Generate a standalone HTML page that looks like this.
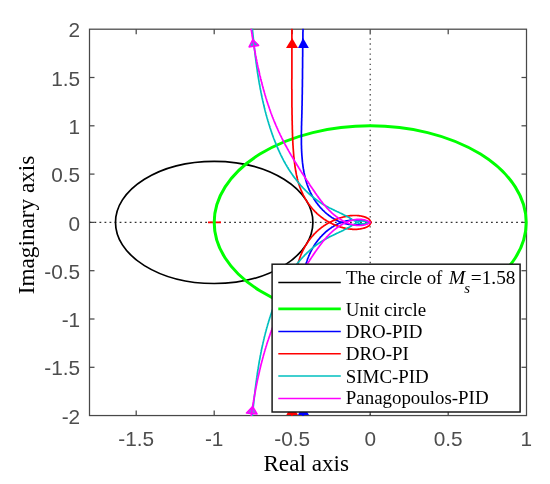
<!DOCTYPE html>
<html><head><meta charset="utf-8"><title>Nyquist plot</title>
<style>html,body{margin:0;padding:0;background:#fff}svg{display:block}</style></head>
<body>
<svg width="550" height="484" viewBox="0 0 550 484">
<rect width="550" height="484" fill="#fff"/>
<defs><clipPath id="ax"><rect x="89.5" y="28.7" width="438.8" height="387.35"/></clipPath></defs>
<g stroke="#484848" stroke-width="1.25" fill="none">
<line x1="136.2" y1="415.55" x2="136.2" y2="410.55"/>
<line x1="136.2" y1="29.2" x2="136.2" y2="34.2"/>
<line x1="214.2" y1="415.55" x2="214.2" y2="410.55"/>
<line x1="214.2" y1="29.2" x2="214.2" y2="34.2"/>
<line x1="292.2" y1="415.55" x2="292.2" y2="410.55"/>
<line x1="292.2" y1="29.2" x2="292.2" y2="34.2"/>
<line x1="370.2" y1="415.55" x2="370.2" y2="410.55"/>
<line x1="370.2" y1="29.2" x2="370.2" y2="34.2"/>
<line x1="448.2" y1="415.55" x2="448.2" y2="410.55"/>
<line x1="448.2" y1="29.2" x2="448.2" y2="34.2"/>
<line x1="89.5" y1="77.5" x2="94.5" y2="77.5"/>
<line x1="526.5" y1="77.5" x2="521.5" y2="77.5"/>
<line x1="89.5" y1="125.8" x2="94.5" y2="125.8"/>
<line x1="526.5" y1="125.8" x2="521.5" y2="125.8"/>
<line x1="89.5" y1="174.1" x2="94.5" y2="174.1"/>
<line x1="526.5" y1="174.1" x2="521.5" y2="174.1"/>
<line x1="89.5" y1="222.4" x2="94.5" y2="222.4"/>
<line x1="526.5" y1="222.4" x2="521.5" y2="222.4"/>
<line x1="89.5" y1="270.7" x2="94.5" y2="270.7"/>
<line x1="526.5" y1="270.7" x2="521.5" y2="270.7"/>
<line x1="89.5" y1="319.0" x2="94.5" y2="319.0"/>
<line x1="526.5" y1="319.0" x2="521.5" y2="319.0"/>
<line x1="89.5" y1="367.3" x2="94.5" y2="367.3"/>
<line x1="526.5" y1="367.3" x2="521.5" y2="367.3"/>
<rect x="89.5" y="29.2" width="437.0" height="386.35"/>
</g>
<g clip-path="url(#ax)" fill="none" stroke-linejoin="round">
<line x1="89.4" y1="222.4" x2="214.0" y2="222.4" stroke="#333" stroke-width="1.15" stroke-dasharray="1.8 3.235"/>
<line x1="214.05" y1="222.4" x2="526.5" y2="222.4" stroke="#333" stroke-width="1.15" stroke-dasharray="1.8 3.235"/>
<line x1="370.2" y1="415.55" x2="370.2" y2="34.2" stroke="#333" stroke-width="1.15" stroke-dasharray="1.4 3.68"/>
<line x1="208" y1="222.4" x2="221" y2="222.4" stroke="#f00" stroke-width="1.6"/>
<line x1="214.2" y1="216.4" x2="214.2" y2="228.4" stroke="#f00" stroke-width="1.6"/>
<ellipse cx="214.2" cy="222.4" rx="98.7" ry="61.1" stroke="#000" stroke-width="1.7"/>
<ellipse cx="370.2" cy="222.4" rx="156.0" ry="96.6" stroke="#00ff00" stroke-width="3.0"/>
<path d="M303.0,28.2 L303.0,29.2 L303.0,29.8 L303.0,30.4 L303.0,31.0 L303.0,31.6 L302.9,32.2 L302.9,32.8 L302.9,33.4 L302.9,34.0 L302.9,34.6 L302.9,35.2 L302.9,35.8 L302.9,36.4 L302.9,37.0 L302.9,37.6 L302.9,38.2 L302.8,38.8 L302.8,39.4 L302.8,40.0 L302.8,40.6 L302.8,41.2 L302.8,41.8 L302.8,42.4 L302.8,43.0 L302.8,43.5 L302.8,44.1 L302.8,44.7 L302.8,45.3 L302.8,45.9 L302.8,46.5 L302.7,47.1 L302.7,47.7 L302.7,48.3 L302.7,48.9 L302.7,49.5 L302.7,50.1 L302.7,50.7 L302.7,51.3 L302.7,51.9 L302.7,52.5 L302.7,53.1 L302.7,53.7 L302.7,54.3 L302.7,54.9 L302.7,55.5 L302.7,56.1 L302.7,56.7 L302.6,57.3 L302.6,57.9 L302.6,58.5 L302.6,59.1 L302.6,59.7 L302.6,60.3 L302.6,60.9 L302.6,61.5 L302.6,62.1 L302.6,62.7 L302.6,63.2 L302.6,63.8 L302.6,64.4 L302.6,65.0 L302.6,65.6 L302.6,66.2 L302.6,66.8 L302.6,67.4 L302.6,68.0 L302.5,68.6 L302.5,69.2 L302.5,69.8 L302.5,70.4 L302.5,71.0 L302.5,71.6 L302.5,72.2 L302.5,72.8 L302.5,73.4 L302.5,74.0 L302.5,74.6 L302.5,75.2 L302.5,75.8 L302.5,76.4 L302.5,77.0 L302.5,77.6 L302.5,78.2 L302.5,78.8 L302.4,79.4 L302.4,79.9 L302.4,80.5 L302.4,81.1 L302.4,81.7 L302.4,82.3 L302.4,82.9 L302.4,83.5 L302.4,84.1 L302.4,84.7 L302.4,85.3 L302.4,85.9 L302.4,86.5 L302.4,87.1 L302.3,87.7 L302.3,88.3 L302.3,88.9 L302.3,89.5 L302.3,90.1 L302.3,90.7 L302.3,91.3 L302.3,91.9 L302.3,92.5 L302.3,93.1 L302.3,93.7 L302.3,94.3 L302.2,94.9 L302.2,95.5 L302.2,96.1 L302.2,96.7 L302.2,97.3 L302.2,97.8 L302.2,98.4 L302.2,99.0 L302.2,99.6 L302.2,100.2 L302.1,100.8 L302.1,101.4 L302.1,102.0 L302.1,102.6 L302.1,103.2 L302.1,103.8 L302.1,104.4 L302.1,105.0 L302.1,105.6 L302.0,106.2 L302.0,106.8 L302.0,107.4 L302.0,108.0 L302.0,108.6 L302.0,109.2 L302.0,109.8 L301.9,110.4 L301.9,111.0 L301.9,111.6 L301.9,112.2 L301.9,112.8 L301.9,113.4 L301.9,114.0 L301.8,114.6 L301.8,115.2 L301.8,115.8 L301.8,116.4 L301.8,117.0 L301.8,117.6 L301.7,118.2 L301.7,118.8 L301.7,119.4 L301.7,120.0 L301.7,120.5 L301.7,121.1 L301.6,121.7 L301.6,122.3 L301.6,122.9 L301.6,123.5 L301.6,124.1 L301.6,124.7 L301.6,125.3 L301.5,125.9 L301.5,126.5 L301.5,127.1 L301.5,127.7 L301.5,128.3 L301.5,128.9 L301.5,129.5 L301.5,130.1 L301.4,130.7 L301.4,131.3 L301.4,131.9 L301.4,132.5 L301.4,133.1 L301.4,133.7 L301.4,134.3 L301.4,134.9 L301.4,135.5 L301.4,136.1 L301.4,136.7 L301.4,137.3 L301.4,137.9 L301.4,138.5 L301.4,139.1 L301.4,139.7 L301.4,140.3 L301.4,140.9 L301.4,141.5 L301.4,142.1 L301.4,142.7 L301.4,143.3 L301.4,143.9 L301.4,144.5 L301.4,145.1 L301.5,145.7 L301.5,146.3 L301.5,146.9 L301.5,147.5 L301.5,148.0 L301.5,148.6 L301.6,149.2 L301.6,149.8 L301.6,150.4 L301.6,151.0 L301.7,151.6 L301.7,152.2 L301.7,152.8 L301.8,153.4 L301.8,154.0 L301.8,154.6 L301.9,155.2 L301.9,155.8 L302.0,156.4 L302.0,157.0 L302.1,157.6 L302.1,158.2 L302.2,158.8 L302.2,159.4 L302.3,160.0 L302.3,160.6 L302.4,161.2 L302.4,161.8 L302.5,162.4 L302.6,162.9 L302.6,163.5 L302.7,164.1 L302.8,164.7 L302.9,165.3 L302.9,165.9 L303.0,166.5 L303.1,167.1 L303.2,167.7 L303.3,168.3 L303.4,168.9 L303.5,169.4 L303.6,170.0 L303.7,170.6 L303.8,171.2 L303.9,171.8 L304.0,172.4 L304.1,173.0 L304.2,173.5 L304.3,174.1 L304.5,174.7 L304.6,175.3 L304.7,175.9 L304.9,176.4 L305.0,177.0 L305.1,177.6 L305.3,178.2 L305.4,178.8 L305.6,179.3 L305.7,179.9 L305.9,180.5 L306.1,181.0 L306.2,181.6 L306.4,182.2 L306.6,182.7 L306.8,183.3 L307.0,183.9 L307.1,184.4 L307.3,185.0 L307.5,185.5 L307.7,186.1 L307.9,186.7 L308.2,187.2 L308.4,187.8 L308.6,188.3 L308.8,188.9 L309.0,189.4 L309.3,190.0 L309.5,190.5 L309.8,191.0 L310.0,191.6 L310.3,192.1 L310.5,192.7 L310.8,193.2 L311.0,193.7 L311.3,194.3 L311.6,194.8 L311.9,195.3 L312.2,195.9 L312.5,196.4 L312.8,196.9 L313.1,197.4 L313.4,197.9 L313.7,198.4 L314.0,199.0 L314.3,199.5 L314.7,200.0 L315.0,200.5 L315.3,201.0 L315.7,201.5 L316.0,202.0 L316.4,202.5 L316.7,203.0 L317.1,203.4 L317.5,203.9 L317.8,204.4 L318.2,204.9 L318.6,205.3 L319.0,205.8 L319.3,206.3 L319.7,206.7 L320.1,207.2 L320.5,207.7 L320.9,208.1 L321.4,208.5 L321.8,209.0 L322.2,209.4 L322.6,209.9 L323.0,210.3 L323.5,210.7 L323.9,211.1 L324.3,211.5 L324.8,212.0 L325.2,212.4 L325.7,212.8 L326.1,213.2 L326.6,213.5 L327.0,213.9 L327.5,214.3 L328.0,214.7 L328.4,215.1 L328.9,215.4 L329.4,215.8 L329.9,216.1 L330.4,216.5 L330.9,216.8 L331.4,217.2 L331.8,217.5 L332.3,217.8 L332.9,218.1 L333.4,218.4 L333.9,218.8 L334.4,219.1 L334.9,219.3 L335.4,219.6 L335.9,219.9 L336.5,220.2 L337.0,220.5 L337.5,220.7 L338.1,221.0 L338.6,221.2 L339.1,221.5 L339.7,221.7 L340.2,221.9 L340.8,222.1 L341.3,222.3 L341.9,222.5 L342.4,222.7 L343.0,222.9 L343.6,223.1 L344.1,223.3 L344.7,223.4 L345.3,223.6 L345.8,223.7 L346.4,223.9 L347.0,224.0 L347.6,224.1 L348.1,224.2 L348.7,224.3 L349.3,224.4 L349.9,224.5 L350.5,224.6 L351.1,224.7 L351.7,224.7 L352.2,224.8 L352.8,224.8 L353.4,224.9 L354.0,224.9 L354.6,224.9 L355.2,224.9 L355.8,224.9 L356.4,224.9 L357.0,224.9 L357.6,224.9 L358.2,224.8 L358.8,224.8 L359.4,224.8 L360.0,224.7 L360.6,224.6 L361.1,224.6 L361.7,224.5 L362.3,224.4 L362.9,224.3 L363.5,224.2 L364.1,224.1 L364.7,224.0 L365.3,223.8 L365.9,223.7 L366.4,223.5 L367.0,223.4 L367.6,223.2 L368.2,223.0 L368.7,222.9 L369.3,222.7 L369.9,222.5 L370.5,222.3" stroke="#0000ff" stroke-width="1.7"/>
<path d="M303.0,416.6 L303.0,415.6 L303.0,415.0 L303.0,414.4 L303.0,413.8 L303.0,413.2 L302.9,412.6 L302.9,412.0 L302.9,411.4 L302.9,410.8 L302.9,410.2 L302.9,409.6 L302.9,409.0 L302.9,408.4 L302.9,407.8 L302.9,407.2 L302.9,406.6 L302.8,406.0 L302.8,405.4 L302.8,404.8 L302.8,404.2 L302.8,403.6 L302.8,403.0 L302.8,402.4 L302.8,401.8 L302.8,401.3 L302.8,400.7 L302.8,400.1 L302.8,399.5 L302.8,398.9 L302.8,398.3 L302.7,397.7 L302.7,397.1 L302.7,396.5 L302.7,395.9 L302.7,395.3 L302.7,394.7 L302.7,394.1 L302.7,393.5 L302.7,392.9 L302.7,392.3 L302.7,391.7 L302.7,391.1 L302.7,390.5 L302.7,389.9 L302.7,389.3 L302.7,388.7 L302.7,388.1 L302.6,387.5 L302.6,386.9 L302.6,386.3 L302.6,385.7 L302.6,385.1 L302.6,384.5 L302.6,383.9 L302.6,383.3 L302.6,382.7 L302.6,382.1 L302.6,381.6 L302.6,381.0 L302.6,380.4 L302.6,379.8 L302.6,379.2 L302.6,378.6 L302.6,378.0 L302.6,377.4 L302.6,376.8 L302.5,376.2 L302.5,375.6 L302.5,375.0 L302.5,374.4 L302.5,373.8 L302.5,373.2 L302.5,372.6 L302.5,372.0 L302.5,371.4 L302.5,370.8 L302.5,370.2 L302.5,369.6 L302.5,369.0 L302.5,368.4 L302.5,367.8 L302.5,367.2 L302.5,366.6 L302.5,366.0 L302.4,365.4 L302.4,364.9 L302.4,364.3 L302.4,363.7 L302.4,363.1 L302.4,362.5 L302.4,361.9 L302.4,361.3 L302.4,360.7 L302.4,360.1 L302.4,359.5 L302.4,358.9 L302.4,358.3 L302.4,357.7 L302.3,357.1 L302.3,356.5 L302.3,355.9 L302.3,355.3 L302.3,354.7 L302.3,354.1 L302.3,353.5 L302.3,352.9 L302.3,352.3 L302.3,351.7 L302.3,351.1 L302.3,350.5 L302.2,349.9 L302.2,349.3 L302.2,348.7 L302.2,348.1 L302.2,347.5 L302.2,347.0 L302.2,346.4 L302.2,345.8 L302.2,345.2 L302.2,344.6 L302.1,344.0 L302.1,343.4 L302.1,342.8 L302.1,342.2 L302.1,341.6 L302.1,341.0 L302.1,340.4 L302.1,339.8 L302.1,339.2 L302.0,338.6 L302.0,338.0 L302.0,337.4 L302.0,336.8 L302.0,336.2 L302.0,335.6 L302.0,335.0 L301.9,334.4 L301.9,333.8 L301.9,333.2 L301.9,332.6 L301.9,332.0 L301.9,331.4 L301.9,330.8 L301.8,330.2 L301.8,329.6 L301.8,329.0 L301.8,328.4 L301.8,327.8 L301.8,327.2 L301.7,326.6 L301.7,326.0 L301.7,325.4 L301.7,324.8 L301.7,324.3 L301.7,323.7 L301.6,323.1 L301.6,322.5 L301.6,321.9 L301.6,321.3 L301.6,320.7 L301.6,320.1 L301.6,319.5 L301.5,318.9 L301.5,318.3 L301.5,317.7 L301.5,317.1 L301.5,316.5 L301.5,315.9 L301.5,315.3 L301.5,314.7 L301.4,314.1 L301.4,313.5 L301.4,312.9 L301.4,312.3 L301.4,311.7 L301.4,311.1 L301.4,310.5 L301.4,309.9 L301.4,309.3 L301.4,308.7 L301.4,308.1 L301.4,307.5 L301.4,306.9 L301.4,306.3 L301.4,305.7 L301.4,305.1 L301.4,304.5 L301.4,303.9 L301.4,303.3 L301.4,302.7 L301.4,302.1 L301.4,301.5 L301.4,300.9 L301.4,300.3 L301.4,299.7 L301.5,299.1 L301.5,298.5 L301.5,297.9 L301.5,297.3 L301.5,296.8 L301.5,296.2 L301.6,295.6 L301.6,295.0 L301.6,294.4 L301.6,293.8 L301.7,293.2 L301.7,292.6 L301.7,292.0 L301.8,291.4 L301.8,290.8 L301.8,290.2 L301.9,289.6 L301.9,289.0 L302.0,288.4 L302.0,287.8 L302.1,287.2 L302.1,286.6 L302.2,286.0 L302.2,285.4 L302.3,284.8 L302.3,284.2 L302.4,283.6 L302.4,283.0 L302.5,282.4 L302.6,281.9 L302.6,281.3 L302.7,280.7 L302.8,280.1 L302.9,279.5 L302.9,278.9 L303.0,278.3 L303.1,277.7 L303.2,277.1 L303.3,276.5 L303.4,275.9 L303.5,275.4 L303.6,274.8 L303.7,274.2 L303.8,273.6 L303.9,273.0 L304.0,272.4 L304.1,271.8 L304.2,271.3 L304.3,270.7 L304.5,270.1 L304.6,269.5 L304.7,268.9 L304.9,268.4 L305.0,267.8 L305.1,267.2 L305.3,266.6 L305.4,266.0 L305.6,265.5 L305.7,264.9 L305.9,264.3 L306.1,263.8 L306.2,263.2 L306.4,262.6 L306.6,262.1 L306.8,261.5 L307.0,260.9 L307.1,260.4 L307.3,259.8 L307.5,259.3 L307.7,258.7 L307.9,258.1 L308.2,257.6 L308.4,257.0 L308.6,256.5 L308.8,255.9 L309.0,255.4 L309.3,254.8 L309.5,254.3 L309.8,253.8 L310.0,253.2 L310.3,252.7 L310.5,252.1 L310.8,251.6 L311.0,251.1 L311.3,250.5 L311.6,250.0 L311.9,249.5 L312.2,248.9 L312.5,248.4 L312.8,247.9 L313.1,247.4 L313.4,246.9 L313.7,246.4 L314.0,245.8 L314.3,245.3 L314.7,244.8 L315.0,244.3 L315.3,243.8 L315.7,243.3 L316.0,242.8 L316.4,242.3 L316.7,241.8 L317.1,241.4 L317.5,240.9 L317.8,240.4 L318.2,239.9 L318.6,239.5 L319.0,239.0 L319.3,238.5 L319.7,238.1 L320.1,237.6 L320.5,237.1 L320.9,236.7 L321.4,236.3 L321.8,235.8 L322.2,235.4 L322.6,234.9 L323.0,234.5 L323.5,234.1 L323.9,233.7 L324.3,233.3 L324.8,232.8 L325.2,232.4 L325.7,232.0 L326.1,231.6 L326.6,231.3 L327.0,230.9 L327.5,230.5 L328.0,230.1 L328.4,229.7 L328.9,229.4 L329.4,229.0 L329.9,228.7 L330.4,228.3 L330.9,228.0 L331.4,227.6 L331.8,227.3 L332.3,227.0 L332.9,226.7 L333.4,226.4 L333.9,226.0 L334.4,225.7 L334.9,225.5 L335.4,225.2 L335.9,224.9 L336.5,224.6 L337.0,224.3 L337.5,224.1 L338.1,223.8 L338.6,223.6 L339.1,223.3 L339.7,223.1 L340.2,222.9 L340.8,222.7 L341.3,222.5 L341.9,222.3 L342.4,222.1 L343.0,221.9 L343.6,221.7 L344.1,221.5 L344.7,221.4 L345.3,221.2 L345.8,221.1 L346.4,220.9 L347.0,220.8 L347.6,220.7 L348.1,220.6 L348.7,220.5 L349.3,220.4 L349.9,220.3 L350.5,220.2 L351.1,220.1 L351.7,220.1 L352.2,220.0 L352.8,220.0 L353.4,219.9 L354.0,219.9 L354.6,219.9 L355.2,219.9 L355.8,219.9 L356.4,219.9 L357.0,219.9 L357.6,219.9 L358.2,220.0 L358.8,220.0 L359.4,220.0 L360.0,220.1 L360.6,220.2 L361.1,220.2 L361.7,220.3 L362.3,220.4 L362.9,220.5 L363.5,220.6 L364.1,220.7 L364.7,220.8 L365.3,221.0 L365.9,221.1 L366.4,221.3 L367.0,221.4 L367.6,221.6 L368.2,221.8 L368.7,221.9 L369.3,222.1 L369.9,222.3 L370.5,222.5" stroke="#0000ff" stroke-width="1.7"/>
<path d="M291.9,28.2 L291.9,29.2 L291.9,29.8 L291.9,30.5 L291.9,31.1 L291.9,31.7 L291.9,32.4 L291.9,33.0 L291.9,33.6 L291.9,34.3 L291.9,34.9 L291.9,35.5 L291.9,36.2 L291.9,36.8 L291.9,37.4 L291.9,38.1 L291.9,38.7 L291.9,39.3 L291.9,40.0 L291.9,40.6 L291.9,41.2 L291.9,41.9 L291.9,42.5 L291.9,43.1 L291.9,43.8 L291.9,44.4 L291.9,45.0 L291.9,45.7 L291.9,46.3 L291.9,46.9 L291.9,47.6 L291.9,48.2 L291.9,48.8 L291.9,49.5 L291.9,50.1 L291.9,50.7 L291.9,51.4 L291.9,52.0 L291.9,52.6 L291.9,53.3 L291.9,53.9 L291.9,54.5 L291.9,55.2 L291.9,55.8 L291.9,56.4 L291.9,57.1 L291.9,57.7 L291.9,58.3 L291.9,59.0 L291.9,59.6 L291.9,60.3 L291.9,60.9 L291.9,61.5 L291.9,62.2 L291.9,62.8 L291.9,63.4 L291.9,64.1 L291.9,64.7 L291.9,65.3 L291.9,66.0 L291.9,66.6 L291.9,67.2 L291.9,67.9 L291.9,68.5 L291.9,69.1 L291.9,69.8 L291.9,70.4 L291.9,71.0 L291.9,71.7 L291.9,72.3 L291.9,72.9 L291.9,73.6 L291.9,74.2 L291.9,74.8 L291.9,75.5 L291.9,76.1 L291.9,76.7 L291.9,77.4 L291.9,78.0 L291.9,78.6 L291.8,79.3 L291.8,79.9 L291.8,80.5 L291.8,81.2 L291.8,81.8 L291.8,82.4 L291.8,83.1 L291.8,83.7 L291.8,84.3 L291.8,85.0 L291.8,85.6 L291.8,86.2 L291.8,86.9 L291.8,87.5 L291.8,88.1 L291.8,88.8 L291.9,89.4 L291.9,90.0 L291.9,90.7 L291.9,91.3 L291.9,91.9 L291.9,92.6 L291.9,93.2 L291.9,93.8 L291.9,94.5 L291.9,95.1 L291.9,95.7 L291.9,96.4 L291.9,97.0 L291.9,97.6 L291.9,98.3 L291.9,98.9 L291.9,99.5 L291.9,100.2 L291.9,100.8 L291.9,101.4 L291.9,102.1 L291.9,102.7 L291.9,103.3 L291.9,104.0 L291.9,104.6 L291.9,105.2 L291.9,105.9 L291.9,106.5 L291.9,107.1 L292.0,107.8 L292.0,108.4 L292.0,109.0 L292.0,109.7 L292.0,110.3 L292.0,110.9 L292.0,111.6 L292.0,112.2 L292.0,112.8 L292.0,113.5 L292.0,114.1 L292.0,114.7 L292.1,115.4 L292.1,116.0 L292.1,116.6 L292.1,117.3 L292.1,117.9 L292.1,118.5 L292.1,119.2 L292.1,119.8 L292.1,120.4 L292.2,121.1 L292.2,121.7 L292.2,122.3 L292.2,123.0 L292.2,123.6 L292.2,124.2 L292.2,124.9 L292.3,125.5 L292.3,126.1 L292.3,126.8 L292.3,127.4 L292.3,128.0 L292.3,128.7 L292.3,129.3 L292.4,129.9 L292.4,130.6 L292.4,131.2 L292.4,131.8 L292.4,132.5 L292.5,133.1 L292.5,133.7 L292.5,134.4 L292.5,135.0 L292.5,135.6 L292.6,136.3 L292.6,136.9 L292.6,137.5 L292.6,138.2 L292.7,138.8 L292.7,139.4 L292.7,140.1 L292.8,140.7 L292.8,141.3 L292.8,142.0 L292.8,142.6 L292.9,143.2 L292.9,143.9 L292.9,144.5 L293.0,145.1 L293.0,145.8 L293.1,146.4 L293.1,147.0 L293.1,147.7 L293.2,148.3 L293.2,148.9 L293.3,149.6 L293.3,150.2 L293.4,150.8 L293.4,151.5 L293.5,152.1 L293.5,152.7 L293.6,153.4 L293.6,154.0 L293.7,154.6 L293.7,155.3 L293.8,155.9 L293.8,156.5 L293.9,157.1 L294.0,157.8 L294.0,158.4 L294.1,159.0 L294.2,159.7 L294.2,160.3 L294.3,160.9 L294.4,161.6 L294.5,162.2 L294.5,162.8 L294.6,163.4 L294.7,164.1 L294.8,164.7 L294.9,165.3 L294.9,166.0 L295.0,166.6 L295.1,167.2 L295.2,167.8 L295.3,168.5 L295.4,169.1 L295.5,169.7 L295.6,170.3 L295.7,171.0 L295.8,171.6 L296.0,172.2 L296.1,172.8 L296.2,173.5 L296.3,174.1 L296.4,174.7 L296.6,175.3 L296.7,175.9 L296.8,176.6 L297.0,177.2 L297.1,177.8 L297.3,178.4 L297.4,179.0 L297.6,179.6 L297.7,180.2 L297.9,180.9 L298.1,181.5 L298.2,182.1 L298.4,182.7 L298.6,183.3 L298.8,183.9 L299.0,184.5 L299.2,185.1 L299.4,185.7 L299.6,186.3 L299.8,186.9 L300.0,187.5 L300.2,188.1 L300.5,188.7 L300.7,189.3 L300.9,189.9 L301.2,190.4 L301.4,191.0 L301.7,191.6 L301.9,192.2 L302.2,192.8 L302.5,193.3 L302.7,193.9 L303.0,194.5 L303.3,195.1 L303.6,195.6 L303.9,196.2 L304.2,196.8 L304.5,197.3 L304.8,197.9 L305.1,198.4 L305.4,199.0 L305.8,199.5 L306.1,200.1 L306.4,200.6 L306.8,201.1 L307.1,201.7 L307.5,202.2 L307.8,202.7 L308.2,203.3 L308.5,203.8 L308.9,204.3 L309.3,204.8 L309.7,205.3 L310.0,205.8 L310.4,206.3 L310.8,206.8 L311.2,207.3 L311.6,207.8 L312.0,208.3 L312.4,208.8 L312.9,209.2 L313.3,209.7 L313.7,210.2 L314.1,210.6 L314.6,211.1 L315.0,211.6 L315.5,212.0 L315.9,212.4 L316.4,212.9 L316.8,213.3 L317.3,213.8 L317.8,214.2 L318.2,214.6 L318.7,215.0 L319.2,215.4 L319.7,215.8 L320.2,216.2 L320.7,216.6 L321.2,217.0 L321.7,217.4 L322.2,217.8 L322.7,218.1 L323.2,218.5 L323.7,218.9 L324.3,219.2 L324.8,219.6 L325.3,219.9 L325.8,220.3 L326.4,220.6 L326.9,220.9 L327.5,221.2 L328.0,221.6 L328.6,221.9 L329.1,222.2 L329.7,222.5 L330.2,222.8 L330.8,223.1 L331.4,223.3 L331.9,223.6 L332.5,223.9 L333.1,224.2 L333.7,224.4 L334.3,224.7 L334.8,224.9 L335.4,225.2 L336.0,225.4 L336.6,225.6 L337.2,225.9 L337.8,226.1 L338.4,226.3 L339.0,226.5 L339.6,226.7 L340.2,226.9 L340.8,227.1 L341.4,227.3 L342.0,227.4 L342.6,227.6 L343.2,227.8 L343.9,227.9 L344.5,228.1 L345.1,228.2 L345.7,228.4 L346.3,228.5 L347.0,228.6 L347.6,228.7 L348.2,228.8 L348.8,228.9 L349.5,229.0 L350.1,229.1 L350.7,229.1 L351.3,229.2 L352.0,229.2 L352.6,229.3 L353.2,229.3 L353.9,229.3 L354.5,229.3 L355.1,229.3 L355.8,229.3 L356.4,229.3 L357.0,229.3 L357.7,229.2 L358.3,229.1 L358.9,229.1 L359.6,229.0 L360.2,228.9 L360.8,228.8 L361.5,228.7 L362.1,228.5 L362.7,228.4 L363.4,228.2 L364.0,228.1 L364.6,227.9 L365.2,227.7 L365.8,227.4 L366.4,227.2 L367.0,226.9 L367.6,226.6 L368.1,226.3 L368.6,226.0 L369.1,225.6 L369.5,225.1 L369.8,224.7 L370.1,224.2 L370.4,223.6 L370.6,223.0 L370.7,222.4 L370.7,221.8 L370.5,221.7 L370.1,222.5" stroke="#ff0000" stroke-width="1.7"/>
<path d="M291.9,416.6 L291.9,415.6 L291.9,415.0 L291.9,414.3 L291.9,413.7 L291.9,413.1 L291.9,412.4 L291.9,411.8 L291.9,411.2 L291.9,410.5 L291.9,409.9 L291.9,409.3 L291.9,408.6 L291.9,408.0 L291.9,407.4 L291.9,406.7 L291.9,406.1 L291.9,405.5 L291.9,404.8 L291.9,404.2 L291.9,403.6 L291.9,402.9 L291.9,402.3 L291.9,401.7 L291.9,401.0 L291.9,400.4 L291.9,399.8 L291.9,399.1 L291.9,398.5 L291.9,397.9 L291.9,397.2 L291.9,396.6 L291.9,396.0 L291.9,395.3 L291.9,394.7 L291.9,394.1 L291.9,393.4 L291.9,392.8 L291.9,392.2 L291.9,391.5 L291.9,390.9 L291.9,390.3 L291.9,389.6 L291.9,389.0 L291.9,388.4 L291.9,387.7 L291.9,387.1 L291.9,386.5 L291.9,385.8 L291.9,385.2 L291.9,384.5 L291.9,383.9 L291.9,383.3 L291.9,382.6 L291.9,382.0 L291.9,381.4 L291.9,380.7 L291.9,380.1 L291.9,379.5 L291.9,378.8 L291.9,378.2 L291.9,377.6 L291.9,376.9 L291.9,376.3 L291.9,375.7 L291.9,375.0 L291.9,374.4 L291.9,373.8 L291.9,373.1 L291.9,372.5 L291.9,371.9 L291.9,371.2 L291.9,370.6 L291.9,370.0 L291.9,369.3 L291.9,368.7 L291.9,368.1 L291.9,367.4 L291.9,366.8 L291.9,366.2 L291.8,365.5 L291.8,364.9 L291.8,364.3 L291.8,363.6 L291.8,363.0 L291.8,362.4 L291.8,361.7 L291.8,361.1 L291.8,360.5 L291.8,359.8 L291.8,359.2 L291.8,358.6 L291.8,357.9 L291.8,357.3 L291.8,356.7 L291.8,356.0 L291.9,355.4 L291.9,354.8 L291.9,354.1 L291.9,353.5 L291.9,352.9 L291.9,352.2 L291.9,351.6 L291.9,351.0 L291.9,350.3 L291.9,349.7 L291.9,349.1 L291.9,348.4 L291.9,347.8 L291.9,347.2 L291.9,346.5 L291.9,345.9 L291.9,345.3 L291.9,344.6 L291.9,344.0 L291.9,343.4 L291.9,342.7 L291.9,342.1 L291.9,341.5 L291.9,340.8 L291.9,340.2 L291.9,339.6 L291.9,338.9 L291.9,338.3 L291.9,337.7 L292.0,337.0 L292.0,336.4 L292.0,335.8 L292.0,335.1 L292.0,334.5 L292.0,333.9 L292.0,333.2 L292.0,332.6 L292.0,332.0 L292.0,331.3 L292.0,330.7 L292.0,330.1 L292.1,329.4 L292.1,328.8 L292.1,328.2 L292.1,327.5 L292.1,326.9 L292.1,326.3 L292.1,325.6 L292.1,325.0 L292.1,324.4 L292.2,323.7 L292.2,323.1 L292.2,322.5 L292.2,321.8 L292.2,321.2 L292.2,320.6 L292.2,319.9 L292.3,319.3 L292.3,318.7 L292.3,318.0 L292.3,317.4 L292.3,316.8 L292.3,316.1 L292.3,315.5 L292.4,314.9 L292.4,314.2 L292.4,313.6 L292.4,313.0 L292.4,312.3 L292.5,311.7 L292.5,311.1 L292.5,310.4 L292.5,309.8 L292.5,309.2 L292.6,308.5 L292.6,307.9 L292.6,307.3 L292.6,306.6 L292.7,306.0 L292.7,305.4 L292.7,304.7 L292.8,304.1 L292.8,303.5 L292.8,302.8 L292.8,302.2 L292.9,301.6 L292.9,300.9 L292.9,300.3 L293.0,299.7 L293.0,299.0 L293.1,298.4 L293.1,297.8 L293.1,297.1 L293.2,296.5 L293.2,295.9 L293.3,295.2 L293.3,294.6 L293.4,294.0 L293.4,293.3 L293.5,292.7 L293.5,292.1 L293.6,291.4 L293.6,290.8 L293.7,290.2 L293.7,289.5 L293.8,288.9 L293.8,288.3 L293.9,287.7 L294.0,287.0 L294.0,286.4 L294.1,285.8 L294.2,285.1 L294.2,284.5 L294.3,283.9 L294.4,283.2 L294.5,282.6 L294.5,282.0 L294.6,281.4 L294.7,280.7 L294.8,280.1 L294.9,279.5 L294.9,278.8 L295.0,278.2 L295.1,277.6 L295.2,277.0 L295.3,276.3 L295.4,275.7 L295.5,275.1 L295.6,274.5 L295.7,273.8 L295.8,273.2 L296.0,272.6 L296.1,272.0 L296.2,271.3 L296.3,270.7 L296.4,270.1 L296.6,269.5 L296.7,268.9 L296.8,268.2 L297.0,267.6 L297.1,267.0 L297.3,266.4 L297.4,265.8 L297.6,265.2 L297.7,264.6 L297.9,263.9 L298.1,263.3 L298.2,262.7 L298.4,262.1 L298.6,261.5 L298.8,260.9 L299.0,260.3 L299.2,259.7 L299.4,259.1 L299.6,258.5 L299.8,257.9 L300.0,257.3 L300.2,256.7 L300.5,256.1 L300.7,255.5 L300.9,254.9 L301.2,254.4 L301.4,253.8 L301.7,253.2 L301.9,252.6 L302.2,252.0 L302.5,251.5 L302.7,250.9 L303.0,250.3 L303.3,249.7 L303.6,249.2 L303.9,248.6 L304.2,248.0 L304.5,247.5 L304.8,246.9 L305.1,246.4 L305.4,245.8 L305.8,245.3 L306.1,244.7 L306.4,244.2 L306.8,243.7 L307.1,243.1 L307.5,242.6 L307.8,242.1 L308.2,241.5 L308.5,241.0 L308.9,240.5 L309.3,240.0 L309.7,239.5 L310.0,239.0 L310.4,238.5 L310.8,238.0 L311.2,237.5 L311.6,237.0 L312.0,236.5 L312.4,236.0 L312.9,235.6 L313.3,235.1 L313.7,234.6 L314.1,234.2 L314.6,233.7 L315.0,233.2 L315.5,232.8 L315.9,232.4 L316.4,231.9 L316.8,231.5 L317.3,231.0 L317.8,230.6 L318.2,230.2 L318.7,229.8 L319.2,229.4 L319.7,229.0 L320.2,228.6 L320.7,228.2 L321.2,227.8 L321.7,227.4 L322.2,227.0 L322.7,226.7 L323.2,226.3 L323.7,225.9 L324.3,225.6 L324.8,225.2 L325.3,224.9 L325.8,224.5 L326.4,224.2 L326.9,223.9 L327.5,223.6 L328.0,223.2 L328.6,222.9 L329.1,222.6 L329.7,222.3 L330.2,222.0 L330.8,221.7 L331.4,221.5 L331.9,221.2 L332.5,220.9 L333.1,220.6 L333.7,220.4 L334.3,220.1 L334.8,219.9 L335.4,219.6 L336.0,219.4 L336.6,219.2 L337.2,218.9 L337.8,218.7 L338.4,218.5 L339.0,218.3 L339.6,218.1 L340.2,217.9 L340.8,217.7 L341.4,217.5 L342.0,217.4 L342.6,217.2 L343.2,217.0 L343.9,216.9 L344.5,216.7 L345.1,216.6 L345.7,216.4 L346.3,216.3 L347.0,216.2 L347.6,216.1 L348.2,216.0 L348.8,215.9 L349.5,215.8 L350.1,215.7 L350.7,215.7 L351.3,215.6 L352.0,215.6 L352.6,215.5 L353.2,215.5 L353.9,215.5 L354.5,215.5 L355.1,215.5 L355.8,215.5 L356.4,215.5 L357.0,215.5 L357.7,215.6 L358.3,215.7 L358.9,215.7 L359.6,215.8 L360.2,215.9 L360.8,216.0 L361.5,216.1 L362.1,216.3 L362.7,216.4 L363.4,216.6 L364.0,216.7 L364.6,216.9 L365.2,217.1 L365.8,217.4 L366.4,217.6 L367.0,217.9 L367.6,218.2 L368.1,218.5 L368.6,218.8 L369.1,219.2 L369.5,219.7 L369.8,220.1 L370.1,220.6 L370.4,221.2 L370.6,221.8 L370.7,222.4 L370.7,223.0 L370.5,223.1 L370.1,222.3" stroke="#ff0000" stroke-width="1.7"/>
<path d="M252.4,28.2 L252.4,29.2 L252.5,29.8 L252.5,30.4 L252.6,31.0 L252.6,31.7 L252.7,32.3 L252.8,32.9 L252.8,33.5 L252.9,34.1 L252.9,34.8 L253.0,35.4 L253.1,36.0 L253.1,36.6 L253.2,37.2 L253.3,37.8 L253.3,38.5 L253.4,39.1 L253.5,39.7 L253.5,40.3 L253.6,40.9 L253.7,41.5 L253.7,42.2 L253.8,42.8 L253.8,43.4 L253.9,44.0 L254.0,44.6 L254.1,45.3 L254.1,45.9 L254.2,46.5 L254.3,47.1 L254.3,47.7 L254.4,48.3 L254.5,49.0 L254.5,49.6 L254.6,50.2 L254.7,50.8 L254.8,51.4 L254.8,52.0 L254.9,52.7 L255.0,53.3 L255.0,53.9 L255.1,54.5 L255.2,55.1 L255.3,55.7 L255.3,56.4 L255.4,57.0 L255.5,57.6 L255.6,58.2 L255.7,58.8 L255.7,59.4 L255.8,60.1 L255.9,60.7 L256.0,61.3 L256.1,61.9 L256.1,62.5 L256.2,63.1 L256.3,63.7 L256.4,64.4 L256.5,65.0 L256.6,65.6 L256.6,66.2 L256.7,66.8 L256.8,67.4 L256.9,68.1 L257.0,68.7 L257.1,69.3 L257.2,69.9 L257.3,70.5 L257.3,71.1 L257.4,71.7 L257.5,72.4 L257.6,73.0 L257.7,73.6 L257.8,74.2 L257.9,74.8 L258.0,75.4 L258.1,76.0 L258.2,76.6 L258.3,77.3 L258.4,77.9 L258.5,78.5 L258.6,79.1 L258.7,79.7 L258.8,80.3 L258.9,80.9 L259.0,81.5 L259.1,82.2 L259.2,82.8 L259.3,83.4 L259.4,84.0 L259.5,84.6 L259.7,85.2 L259.8,85.8 L259.9,86.4 L260.0,87.0 L260.1,87.7 L260.2,88.3 L260.3,88.9 L260.4,89.5 L260.6,90.1 L260.7,90.7 L260.8,91.3 L260.9,91.9 L261.0,92.5 L261.2,93.1 L261.3,93.7 L261.4,94.3 L261.5,95.0 L261.6,95.6 L261.8,96.2 L261.9,96.8 L262.0,97.4 L262.2,98.0 L262.3,98.6 L262.4,99.2 L262.6,99.8 L262.7,100.4 L262.8,101.0 L263.0,101.6 L263.1,102.2 L263.2,102.8 L263.4,103.4 L263.5,104.0 L263.7,104.6 L263.8,105.2 L263.9,105.8 L264.1,106.4 L264.2,107.1 L264.4,107.7 L264.5,108.3 L264.7,108.9 L264.8,109.5 L265.0,110.1 L265.1,110.7 L265.3,111.3 L265.4,111.9 L265.6,112.5 L265.8,113.1 L265.9,113.7 L266.1,114.3 L266.2,114.9 L266.4,115.5 L266.6,116.1 L266.7,116.7 L266.9,117.3 L267.1,117.8 L267.2,118.4 L267.4,119.0 L267.6,119.6 L267.7,120.2 L267.9,120.8 L268.1,121.4 L268.3,122.0 L268.5,122.6 L268.6,123.2 L268.8,123.8 L269.0,124.4 L269.2,125.0 L269.4,125.6 L269.6,126.2 L269.7,126.8 L269.9,127.4 L270.1,128.0 L270.3,128.5 L270.5,129.1 L270.7,129.7 L270.9,130.3 L271.1,130.9 L271.3,131.5 L271.5,132.1 L271.7,132.7 L271.9,133.3 L272.1,133.9 L272.3,134.4 L272.5,135.0 L272.7,135.6 L272.9,136.2 L273.2,136.8 L273.4,137.4 L273.6,138.0 L273.8,138.5 L274.0,139.1 L274.3,139.7 L274.5,140.3 L274.7,140.9 L274.9,141.4 L275.2,142.0 L275.4,142.6 L275.6,143.2 L275.9,143.8 L276.1,144.3 L276.3,144.9 L276.6,145.5 L276.8,146.1 L277.0,146.6 L277.3,147.2 L277.5,147.8 L277.8,148.3 L278.0,148.9 L278.3,149.5 L278.5,150.0 L278.8,150.6 L279.1,151.2 L279.3,151.7 L279.6,152.3 L279.8,152.9 L280.1,153.4 L280.4,154.0 L280.6,154.6 L280.9,155.1 L281.2,155.7 L281.5,156.2 L281.7,156.8 L282.0,157.3 L282.3,157.9 L282.6,158.4 L282.9,159.0 L283.2,159.5 L283.4,160.1 L283.7,160.6 L284.0,161.2 L284.3,161.7 L284.6,162.3 L284.9,162.8 L285.2,163.3 L285.5,163.9 L285.8,164.4 L286.2,165.0 L286.5,165.5 L286.8,166.0 L287.1,166.6 L287.4,167.1 L287.7,167.6 L288.1,168.1 L288.4,168.7 L288.7,169.2 L289.0,169.7 L289.4,170.2 L289.7,170.8 L290.0,171.3 L290.4,171.8 L290.7,172.3 L291.1,172.8 L291.4,173.3 L291.8,173.8 L292.1,174.3 L292.5,174.9 L292.8,175.4 L293.2,175.9 L293.5,176.4 L293.9,176.9 L294.3,177.4 L294.6,177.9 L295.0,178.3 L295.4,178.8 L295.8,179.3 L296.2,179.8 L296.5,180.3 L296.9,180.8 L297.3,181.3 L297.7,181.8 L298.1,182.2 L298.5,182.7 L298.9,183.2 L299.3,183.7 L299.7,184.1 L300.1,184.6 L300.5,185.1 L300.9,185.5 L301.3,186.0 L301.7,186.5 L302.2,186.9 L302.6,187.4 L303.0,187.8 L303.4,188.3 L303.9,188.7 L304.3,189.2 L304.7,189.6 L305.2,190.1 L305.6,190.5 L306.1,191.0 L306.5,191.4 L307.0,191.8 L307.4,192.3 L307.9,192.7 L308.3,193.1 L308.8,193.5 L309.2,194.0 L309.7,194.4 L310.2,194.8 L310.7,195.2 L311.1,195.6 L311.6,196.0 L312.1,196.4 L312.6,196.8 L313.0,197.2 L313.5,197.6 L314.0,198.0 L314.5,198.4 L315.0,198.8 L315.5,199.1 L316.0,199.5 L316.5,199.9 L317.0,200.3 L317.5,200.6 L318.0,201.0 L318.5,201.3 L319.0,201.7 L319.5,202.0 L320.1,202.4 L320.6,202.7 L321.1,203.1 L321.6,203.4 L322.1,203.7 L322.7,204.1 L323.2,204.4 L323.7,204.7 L324.3,205.0 L324.8,205.3 L325.3,205.6 L325.9,205.9 L326.4,206.2 L327.0,206.5 L327.5,206.8 L328.0,207.1 L328.6,207.4 L329.1,207.7 L329.7,208.0 L330.2,208.2 L330.8,208.5 L331.4,208.8 L331.9,209.1 L332.5,209.3 L333.0,209.6 L333.6,209.9 L334.1,210.1 L334.7,210.4 L335.3,210.7 L335.8,210.9 L336.4,211.2 L336.9,211.5 L337.5,211.7 L338.1,212.0 L338.6,212.3 L339.2,212.5 L339.7,212.8 L340.3,213.1 L340.9,213.3 L341.4,213.6 L342.0,213.9 L342.5,214.1 L343.1,214.4 L343.6,214.7 L344.2,215.0 L344.7,215.3 L345.3,215.5 L345.9,215.8 L346.4,216.1 L346.9,216.4 L347.5,216.7 L348.0,217.0 L348.6,217.3 L349.1,217.6 L349.7,217.9 L350.2,218.2 L350.7,218.5 L351.3,218.8 L351.8,219.2 L352.3,219.5 L352.9,219.8 L353.4,220.1 L353.9,220.4 L354.4,220.7 L355.0,221.1 L355.5,221.4 L356.0,221.7 L356.5,222.0 L357.0,222.3 L357.5,222.6 L358.1,222.9 L358.6,223.1 L359.1,223.4 L359.7,223.5 L360.3,223.6 L360.9,223.7 L361.5,223.8 L362.1,223.8 L362.8,223.8 L363.4,223.8 L364.0,223.7 L364.7,223.6 L365.3,223.5 L366.0,223.4 L366.6,223.3 L367.2,223.1 L367.8,223.0 L368.5,222.8 L369.0,222.7 L369.6,222.5 L370.2,222.4" stroke="#00bfbf" stroke-width="1.7"/>
<path d="M252.4,416.6 L252.4,415.6 L252.5,415.0 L252.5,414.4 L252.6,413.8 L252.6,413.1 L252.7,412.5 L252.8,411.9 L252.8,411.3 L252.9,410.7 L252.9,410.0 L253.0,409.4 L253.1,408.8 L253.1,408.2 L253.2,407.6 L253.3,407.0 L253.3,406.3 L253.4,405.7 L253.5,405.1 L253.5,404.5 L253.6,403.9 L253.7,403.3 L253.7,402.6 L253.8,402.0 L253.8,401.4 L253.9,400.8 L254.0,400.2 L254.1,399.5 L254.1,398.9 L254.2,398.3 L254.3,397.7 L254.3,397.1 L254.4,396.5 L254.5,395.8 L254.5,395.2 L254.6,394.6 L254.7,394.0 L254.8,393.4 L254.8,392.8 L254.9,392.1 L255.0,391.5 L255.0,390.9 L255.1,390.3 L255.2,389.7 L255.3,389.1 L255.3,388.4 L255.4,387.8 L255.5,387.2 L255.6,386.6 L255.7,386.0 L255.7,385.4 L255.8,384.7 L255.9,384.1 L256.0,383.5 L256.1,382.9 L256.1,382.3 L256.2,381.7 L256.3,381.1 L256.4,380.4 L256.5,379.8 L256.6,379.2 L256.6,378.6 L256.7,378.0 L256.8,377.4 L256.9,376.7 L257.0,376.1 L257.1,375.5 L257.2,374.9 L257.3,374.3 L257.3,373.7 L257.4,373.1 L257.5,372.4 L257.6,371.8 L257.7,371.2 L257.8,370.6 L257.9,370.0 L258.0,369.4 L258.1,368.8 L258.2,368.2 L258.3,367.5 L258.4,366.9 L258.5,366.3 L258.6,365.7 L258.7,365.1 L258.8,364.5 L258.9,363.9 L259.0,363.3 L259.1,362.6 L259.2,362.0 L259.3,361.4 L259.4,360.8 L259.5,360.2 L259.7,359.6 L259.8,359.0 L259.9,358.4 L260.0,357.8 L260.1,357.1 L260.2,356.5 L260.3,355.9 L260.4,355.3 L260.6,354.7 L260.7,354.1 L260.8,353.5 L260.9,352.9 L261.0,352.3 L261.2,351.7 L261.3,351.1 L261.4,350.5 L261.5,349.8 L261.6,349.2 L261.8,348.6 L261.9,348.0 L262.0,347.4 L262.2,346.8 L262.3,346.2 L262.4,345.6 L262.6,345.0 L262.7,344.4 L262.8,343.8 L263.0,343.2 L263.1,342.6 L263.2,342.0 L263.4,341.4 L263.5,340.8 L263.7,340.2 L263.8,339.6 L263.9,339.0 L264.1,338.4 L264.2,337.7 L264.4,337.1 L264.5,336.5 L264.7,335.9 L264.8,335.3 L265.0,334.7 L265.1,334.1 L265.3,333.5 L265.4,332.9 L265.6,332.3 L265.8,331.7 L265.9,331.1 L266.1,330.5 L266.2,329.9 L266.4,329.3 L266.6,328.7 L266.7,328.1 L266.9,327.5 L267.1,327.0 L267.2,326.4 L267.4,325.8 L267.6,325.2 L267.7,324.6 L267.9,324.0 L268.1,323.4 L268.3,322.8 L268.5,322.2 L268.6,321.6 L268.8,321.0 L269.0,320.4 L269.2,319.8 L269.4,319.2 L269.6,318.6 L269.7,318.0 L269.9,317.4 L270.1,316.8 L270.3,316.3 L270.5,315.7 L270.7,315.1 L270.9,314.5 L271.1,313.9 L271.3,313.3 L271.5,312.7 L271.7,312.1 L271.9,311.5 L272.1,310.9 L272.3,310.4 L272.5,309.8 L272.7,309.2 L272.9,308.6 L273.2,308.0 L273.4,307.4 L273.6,306.8 L273.8,306.3 L274.0,305.7 L274.3,305.1 L274.5,304.5 L274.7,303.9 L274.9,303.4 L275.2,302.8 L275.4,302.2 L275.6,301.6 L275.9,301.0 L276.1,300.5 L276.3,299.9 L276.6,299.3 L276.8,298.7 L277.0,298.2 L277.3,297.6 L277.5,297.0 L277.8,296.5 L278.0,295.9 L278.3,295.3 L278.5,294.8 L278.8,294.2 L279.1,293.6 L279.3,293.1 L279.6,292.5 L279.8,291.9 L280.1,291.4 L280.4,290.8 L280.6,290.2 L280.9,289.7 L281.2,289.1 L281.5,288.6 L281.7,288.0 L282.0,287.5 L282.3,286.9 L282.6,286.4 L282.9,285.8 L283.2,285.3 L283.4,284.7 L283.7,284.2 L284.0,283.6 L284.3,283.1 L284.6,282.5 L284.9,282.0 L285.2,281.5 L285.5,280.9 L285.8,280.4 L286.2,279.8 L286.5,279.3 L286.8,278.8 L287.1,278.2 L287.4,277.7 L287.7,277.2 L288.1,276.7 L288.4,276.1 L288.7,275.6 L289.0,275.1 L289.4,274.6 L289.7,274.0 L290.0,273.5 L290.4,273.0 L290.7,272.5 L291.1,272.0 L291.4,271.5 L291.8,271.0 L292.1,270.5 L292.5,269.9 L292.8,269.4 L293.2,268.9 L293.5,268.4 L293.9,267.9 L294.3,267.4 L294.6,266.9 L295.0,266.5 L295.4,266.0 L295.8,265.5 L296.2,265.0 L296.5,264.5 L296.9,264.0 L297.3,263.5 L297.7,263.0 L298.1,262.6 L298.5,262.1 L298.9,261.6 L299.3,261.1 L299.7,260.7 L300.1,260.2 L300.5,259.7 L300.9,259.3 L301.3,258.8 L301.7,258.3 L302.2,257.9 L302.6,257.4 L303.0,257.0 L303.4,256.5 L303.9,256.1 L304.3,255.6 L304.7,255.2 L305.2,254.7 L305.6,254.3 L306.1,253.8 L306.5,253.4 L307.0,253.0 L307.4,252.5 L307.9,252.1 L308.3,251.7 L308.8,251.3 L309.2,250.8 L309.7,250.4 L310.2,250.0 L310.7,249.6 L311.1,249.2 L311.6,248.8 L312.1,248.4 L312.6,248.0 L313.0,247.6 L313.5,247.2 L314.0,246.8 L314.5,246.4 L315.0,246.0 L315.5,245.7 L316.0,245.3 L316.5,244.9 L317.0,244.5 L317.5,244.2 L318.0,243.8 L318.5,243.5 L319.0,243.1 L319.5,242.8 L320.1,242.4 L320.6,242.1 L321.1,241.7 L321.6,241.4 L322.1,241.1 L322.7,240.7 L323.2,240.4 L323.7,240.1 L324.3,239.8 L324.8,239.5 L325.3,239.2 L325.9,238.9 L326.4,238.6 L327.0,238.3 L327.5,238.0 L328.0,237.7 L328.6,237.4 L329.1,237.1 L329.7,236.8 L330.2,236.6 L330.8,236.3 L331.4,236.0 L331.9,235.7 L332.5,235.5 L333.0,235.2 L333.6,234.9 L334.1,234.7 L334.7,234.4 L335.3,234.1 L335.8,233.9 L336.4,233.6 L336.9,233.3 L337.5,233.1 L338.1,232.8 L338.6,232.5 L339.2,232.3 L339.7,232.0 L340.3,231.7 L340.9,231.5 L341.4,231.2 L342.0,230.9 L342.5,230.7 L343.1,230.4 L343.6,230.1 L344.2,229.8 L344.7,229.5 L345.3,229.3 L345.9,229.0 L346.4,228.7 L346.9,228.4 L347.5,228.1 L348.0,227.8 L348.6,227.5 L349.1,227.2 L349.7,226.9 L350.2,226.6 L350.7,226.3 L351.3,226.0 L351.8,225.6 L352.3,225.3 L352.9,225.0 L353.4,224.7 L353.9,224.4 L354.4,224.1 L355.0,223.7 L355.5,223.4 L356.0,223.1 L356.5,222.8 L357.0,222.5 L357.5,222.2 L358.1,221.9 L358.6,221.7 L359.1,221.4 L359.7,221.3 L360.3,221.2 L360.9,221.1 L361.5,221.0 L362.1,221.0 L362.8,221.0 L363.4,221.0 L364.0,221.1 L364.7,221.2 L365.3,221.3 L366.0,221.4 L366.6,221.5 L367.2,221.7 L367.8,221.8 L368.5,222.0 L369.0,222.1 L369.6,222.3 L370.2,222.4" stroke="#00bfbf" stroke-width="1.7"/>
<polygon points="292.15,38.0 286.0,48.0 298.0,48.0" fill="#f00" stroke="none"/>
<polygon points="303.1,38.0 298.0,48.0 308.9,48.0" fill="#00f" stroke="none"/>
<polygon points="252.8,39.5 249.1,46.9 258.6,45.4" fill="#10c8c8" stroke="#f0f" stroke-width="1.5"/>
<polygon points="292.15,405.0 286.3,415.0 298.0,415.0" fill="#f00" stroke="none"/>
<polygon points="303.1,405.0 298.0,415.0 309.0,415.0" fill="#00f" stroke="none"/>
<polygon points="252.7,406.6 246.5,413.0 257.0,414.0" fill="#8a7ad6" stroke="#f0f" stroke-width="1.6"/>
<path d="M251.2,28.2 L251.2,29.3 L251.3,29.9 L251.4,30.5 L251.5,31.1 L251.6,31.7 L251.7,32.3 L251.8,32.9 L251.9,33.5 L252.0,34.1 L252.1,34.7 L252.1,35.3 L252.2,35.9 L252.3,36.5 L252.4,37.1 L252.5,37.7 L252.6,38.3 L252.7,38.9 L252.8,39.5 L252.9,40.1 L253.0,40.7 L253.1,41.3 L253.2,41.9 L253.3,42.5 L253.4,43.1 L253.5,43.8 L253.6,44.4 L253.8,45.0 L253.9,45.6 L254.0,46.2 L254.1,46.8 L254.2,47.4 L254.3,48.0 L254.4,48.6 L254.5,49.2 L254.6,49.8 L254.7,50.4 L254.8,51.0 L254.9,51.6 L255.1,52.2 L255.2,52.8 L255.3,53.4 L255.4,54.0 L255.5,54.7 L255.6,55.3 L255.7,55.9 L255.9,56.5 L256.0,57.1 L256.1,57.7 L256.2,58.3 L256.3,58.9 L256.5,59.5 L256.6,60.1 L256.7,60.7 L256.8,61.3 L256.9,61.9 L257.1,62.5 L257.2,63.1 L257.3,63.8 L257.4,64.4 L257.6,65.0 L257.7,65.6 L257.8,66.2 L258.0,66.8 L258.1,67.4 L258.2,68.0 L258.4,68.6 L258.5,69.2 L258.6,69.8 L258.8,70.4 L258.9,71.0 L259.0,71.6 L259.2,72.2 L259.3,72.8 L259.5,73.5 L259.6,74.1 L259.7,74.7 L259.9,75.3 L260.0,75.9 L260.2,76.5 L260.3,77.1 L260.5,77.7 L260.6,78.3 L260.7,78.9 L260.9,79.5 L261.0,80.1 L261.2,80.7 L261.3,81.3 L261.5,81.9 L261.7,82.5 L261.8,83.1 L262.0,83.7 L262.1,84.3 L262.3,84.9 L262.4,85.5 L262.6,86.1 L262.8,86.7 L262.9,87.3 L263.1,87.9 L263.2,88.5 L263.4,89.1 L263.6,89.7 L263.7,90.3 L263.9,90.9 L264.1,91.5 L264.3,92.1 L264.4,92.7 L264.6,93.3 L264.8,93.9 L264.9,94.5 L265.1,95.1 L265.3,95.7 L265.5,96.3 L265.7,96.9 L265.8,97.5 L266.0,98.1 L266.2,98.7 L266.4,99.2 L266.6,99.8 L266.7,100.4 L266.9,101.0 L267.1,101.6 L267.3,102.2 L267.5,102.8 L267.7,103.4 L267.9,104.0 L268.1,104.6 L268.3,105.1 L268.5,105.7 L268.7,106.3 L268.9,106.9 L269.1,107.5 L269.3,108.1 L269.5,108.7 L269.7,109.2 L269.9,109.8 L270.1,110.4 L270.3,111.0 L270.5,111.6 L270.7,112.2 L270.9,112.7 L271.1,113.3 L271.4,113.9 L271.6,114.5 L271.8,115.1 L272.0,115.6 L272.2,116.2 L272.4,116.8 L272.7,117.4 L272.9,117.9 L273.1,118.5 L273.3,119.1 L273.6,119.6 L273.8,120.2 L274.0,120.8 L274.3,121.4 L274.5,121.9 L274.7,122.5 L275.0,123.1 L275.2,123.6 L275.4,124.2 L275.7,124.8 L275.9,125.3 L276.2,125.9 L276.4,126.5 L276.7,127.0 L276.9,127.6 L277.2,128.1 L277.4,128.7 L277.7,129.3 L277.9,129.8 L278.2,130.4 L278.4,130.9 L278.7,131.5 L278.9,132.1 L279.2,132.6 L279.5,133.2 L279.7,133.7 L280.0,134.3 L280.2,134.8 L280.5,135.4 L280.8,135.9 L281.1,136.5 L281.3,137.0 L281.6,137.6 L281.9,138.1 L282.1,138.7 L282.4,139.2 L282.7,139.8 L283.0,140.3 L283.3,140.9 L283.5,141.4 L283.8,141.9 L284.1,142.5 L284.4,143.0 L284.7,143.6 L285.0,144.1 L285.2,144.7 L285.5,145.2 L285.8,145.7 L286.1,146.3 L286.4,146.8 L286.7,147.3 L287.0,147.9 L287.3,148.4 L287.6,149.0 L287.9,149.5 L288.2,150.0 L288.5,150.6 L288.8,151.1 L289.1,151.6 L289.4,152.2 L289.7,152.7 L290.0,153.2 L290.3,153.8 L290.6,154.3 L290.9,154.8 L291.2,155.4 L291.5,155.9 L291.9,156.4 L292.2,156.9 L292.5,157.5 L292.8,158.0 L293.1,158.5 L293.4,159.1 L293.7,159.6 L294.1,160.1 L294.4,160.6 L294.7,161.2 L295.0,161.7 L295.3,162.2 L295.7,162.7 L296.0,163.3 L296.3,163.8 L296.6,164.3 L296.9,164.9 L297.3,165.4 L297.6,165.9 L297.9,166.4 L298.3,166.9 L298.6,167.5 L298.9,168.0 L299.2,168.5 L299.6,169.0 L299.9,169.6 L300.2,170.1 L300.6,170.6 L300.9,171.1 L301.2,171.6 L301.6,172.2 L301.9,172.7 L302.2,173.2 L302.6,173.7 L302.9,174.3 L303.2,174.8 L303.6,175.3 L303.9,175.8 L304.3,176.3 L304.6,176.9 L304.9,177.4 L305.3,177.9 L305.6,178.4 L306.0,178.9 L306.3,179.5 L306.6,180.0 L307.0,180.5 L307.3,181.0 L307.7,181.5 L308.0,182.1 L308.4,182.6 L308.7,183.1 L309.1,183.6 L309.4,184.1 L309.7,184.7 L310.1,185.2 L310.4,185.7 L310.8,186.2 L311.1,186.7 L311.5,187.3 L311.8,187.8 L312.2,188.3 L312.5,188.8 L312.9,189.3 L313.2,189.9 L313.6,190.4 L313.9,190.9 L314.3,191.4 L314.6,191.9 L315.0,192.4 L315.3,193.0 L315.7,193.5 L316.1,194.0 L316.4,194.5 L316.8,195.0 L317.1,195.5 L317.5,196.0 L317.9,196.5 L318.2,197.1 L318.6,197.6 L319.0,198.1 L319.3,198.6 L319.7,199.1 L320.1,199.6 L320.4,200.1 L320.8,200.6 L321.2,201.0 L321.6,201.5 L322.0,202.0 L322.3,202.5 L322.7,203.0 L323.1,203.5 L323.5,204.0 L323.9,204.4 L324.3,204.9 L324.7,205.4 L325.1,205.8 L325.5,206.3 L325.9,206.8 L326.3,207.2 L326.7,207.7 L327.1,208.1 L327.5,208.6 L328.0,209.0 L328.4,209.5 L328.8,209.9 L329.2,210.3 L329.7,210.8 L330.1,211.2 L330.5,211.6 L331.0,212.0 L331.4,212.5 L331.9,212.9 L332.3,213.3 L332.8,213.7 L333.2,214.1 L333.7,214.5 L334.2,214.9 L334.6,215.2 L335.1,215.6 L335.6,216.0 L336.1,216.4 L336.5,216.7 L337.0,217.1 L337.5,217.4 L338.0,217.8 L338.5,218.1 L339.0,218.5 L339.5,218.8 L340.1,219.1 L340.6,219.5 L341.1,219.8 L341.6,220.1 L342.2,220.4 L342.7,220.7 L343.2,221.0 L343.8,221.3 L344.3,221.5 L344.9,221.8 L345.4,222.1 L346.0,222.3 L346.6,222.6 L347.2,222.8 L347.7,223.1 L348.3,223.3 L348.9,223.5 L349.5,223.7 L350.1,223.9 L350.7,224.1 L351.3,224.3 L351.9,224.5 L352.4,224.6 L353.0,224.8 L353.7,224.9 L354.3,225.0 L354.9,225.1 L355.5,225.2 L356.1,225.3 L356.7,225.4 L357.3,225.4 L357.9,225.5 L358.5,225.5 L359.1,225.5 L359.7,225.5 L360.3,225.5 L360.9,225.4 L361.5,225.4 L362.1,225.3 L362.7,225.2 L363.3,225.1 L364.0,225.0 L364.5,224.9 L365.1,224.7 L365.7,224.5 L366.3,224.3 L366.9,224.1 L367.5,223.9 L368.1,223.6 L368.7,223.3 L369.3,223.0 L369.8,222.7 L370.4,222.4" stroke="#ff00ff" stroke-width="1.7"/>
<path d="M251.2,416.6 L251.2,415.5 L251.3,414.9 L251.4,414.3 L251.5,413.7 L251.6,413.1 L251.7,412.5 L251.8,411.9 L251.9,411.3 L252.0,410.7 L252.1,410.1 L252.1,409.5 L252.2,408.9 L252.3,408.3 L252.4,407.7 L252.5,407.1 L252.6,406.5 L252.7,405.9 L252.8,405.3 L252.9,404.7 L253.0,404.1 L253.1,403.5 L253.2,402.9 L253.3,402.3 L253.4,401.7 L253.5,401.0 L253.6,400.4 L253.8,399.8 L253.9,399.2 L254.0,398.6 L254.1,398.0 L254.2,397.4 L254.3,396.8 L254.4,396.2 L254.5,395.6 L254.6,395.0 L254.7,394.4 L254.8,393.8 L254.9,393.2 L255.1,392.6 L255.2,392.0 L255.3,391.4 L255.4,390.8 L255.5,390.1 L255.6,389.5 L255.7,388.9 L255.9,388.3 L256.0,387.7 L256.1,387.1 L256.2,386.5 L256.3,385.9 L256.5,385.3 L256.6,384.7 L256.7,384.1 L256.8,383.5 L256.9,382.9 L257.1,382.3 L257.2,381.7 L257.3,381.0 L257.4,380.4 L257.6,379.8 L257.7,379.2 L257.8,378.6 L258.0,378.0 L258.1,377.4 L258.2,376.8 L258.4,376.2 L258.5,375.6 L258.6,375.0 L258.8,374.4 L258.9,373.8 L259.0,373.2 L259.2,372.6 L259.3,372.0 L259.5,371.3 L259.6,370.7 L259.7,370.1 L259.9,369.5 L260.0,368.9 L260.2,368.3 L260.3,367.7 L260.5,367.1 L260.6,366.5 L260.7,365.9 L260.9,365.3 L261.0,364.7 L261.2,364.1 L261.3,363.5 L261.5,362.9 L261.7,362.3 L261.8,361.7 L262.0,361.1 L262.1,360.5 L262.3,359.9 L262.4,359.3 L262.6,358.7 L262.8,358.1 L262.9,357.5 L263.1,356.9 L263.2,356.3 L263.4,355.7 L263.6,355.1 L263.7,354.5 L263.9,353.9 L264.1,353.3 L264.3,352.7 L264.4,352.1 L264.6,351.5 L264.8,350.9 L264.9,350.3 L265.1,349.7 L265.3,349.1 L265.5,348.5 L265.7,347.9 L265.8,347.3 L266.0,346.7 L266.2,346.1 L266.4,345.6 L266.6,345.0 L266.7,344.4 L266.9,343.8 L267.1,343.2 L267.3,342.6 L267.5,342.0 L267.7,341.4 L267.9,340.8 L268.1,340.2 L268.3,339.7 L268.5,339.1 L268.7,338.5 L268.9,337.9 L269.1,337.3 L269.3,336.7 L269.5,336.1 L269.7,335.6 L269.9,335.0 L270.1,334.4 L270.3,333.8 L270.5,333.2 L270.7,332.6 L270.9,332.1 L271.1,331.5 L271.4,330.9 L271.6,330.3 L271.8,329.7 L272.0,329.2 L272.2,328.6 L272.4,328.0 L272.7,327.4 L272.9,326.9 L273.1,326.3 L273.3,325.7 L273.6,325.2 L273.8,324.6 L274.0,324.0 L274.3,323.4 L274.5,322.9 L274.7,322.3 L275.0,321.7 L275.2,321.2 L275.4,320.6 L275.7,320.0 L275.9,319.5 L276.2,318.9 L276.4,318.3 L276.7,317.8 L276.9,317.2 L277.2,316.7 L277.4,316.1 L277.7,315.5 L277.9,315.0 L278.2,314.4 L278.4,313.9 L278.7,313.3 L278.9,312.7 L279.2,312.2 L279.5,311.6 L279.7,311.1 L280.0,310.5 L280.2,310.0 L280.5,309.4 L280.8,308.9 L281.1,308.3 L281.3,307.8 L281.6,307.2 L281.9,306.7 L282.1,306.1 L282.4,305.6 L282.7,305.0 L283.0,304.5 L283.3,303.9 L283.5,303.4 L283.8,302.9 L284.1,302.3 L284.4,301.8 L284.7,301.2 L285.0,300.7 L285.2,300.1 L285.5,299.6 L285.8,299.1 L286.1,298.5 L286.4,298.0 L286.7,297.5 L287.0,296.9 L287.3,296.4 L287.6,295.8 L287.9,295.3 L288.2,294.8 L288.5,294.2 L288.8,293.7 L289.1,293.2 L289.4,292.6 L289.7,292.1 L290.0,291.6 L290.3,291.0 L290.6,290.5 L290.9,290.0 L291.2,289.4 L291.5,288.9 L291.9,288.4 L292.2,287.9 L292.5,287.3 L292.8,286.8 L293.1,286.3 L293.4,285.7 L293.7,285.2 L294.1,284.7 L294.4,284.2 L294.7,283.6 L295.0,283.1 L295.3,282.6 L295.7,282.1 L296.0,281.5 L296.3,281.0 L296.6,280.5 L296.9,279.9 L297.3,279.4 L297.6,278.9 L297.9,278.4 L298.3,277.9 L298.6,277.3 L298.9,276.8 L299.2,276.3 L299.6,275.8 L299.9,275.2 L300.2,274.7 L300.6,274.2 L300.9,273.7 L301.2,273.2 L301.6,272.6 L301.9,272.1 L302.2,271.6 L302.6,271.1 L302.9,270.5 L303.2,270.0 L303.6,269.5 L303.9,269.0 L304.3,268.5 L304.6,267.9 L304.9,267.4 L305.3,266.9 L305.6,266.4 L306.0,265.9 L306.3,265.3 L306.6,264.8 L307.0,264.3 L307.3,263.8 L307.7,263.3 L308.0,262.7 L308.4,262.2 L308.7,261.7 L309.1,261.2 L309.4,260.7 L309.7,260.1 L310.1,259.6 L310.4,259.1 L310.8,258.6 L311.1,258.1 L311.5,257.5 L311.8,257.0 L312.2,256.5 L312.5,256.0 L312.9,255.5 L313.2,254.9 L313.6,254.4 L313.9,253.9 L314.3,253.4 L314.6,252.9 L315.0,252.4 L315.3,251.8 L315.7,251.3 L316.1,250.8 L316.4,250.3 L316.8,249.8 L317.1,249.3 L317.5,248.8 L317.9,248.3 L318.2,247.7 L318.6,247.2 L319.0,246.7 L319.3,246.2 L319.7,245.7 L320.1,245.2 L320.4,244.7 L320.8,244.2 L321.2,243.8 L321.6,243.3 L322.0,242.8 L322.3,242.3 L322.7,241.8 L323.1,241.3 L323.5,240.8 L323.9,240.4 L324.3,239.9 L324.7,239.4 L325.1,239.0 L325.5,238.5 L325.9,238.0 L326.3,237.6 L326.7,237.1 L327.1,236.7 L327.5,236.2 L328.0,235.8 L328.4,235.3 L328.8,234.9 L329.2,234.5 L329.7,234.0 L330.1,233.6 L330.5,233.2 L331.0,232.8 L331.4,232.3 L331.9,231.9 L332.3,231.5 L332.8,231.1 L333.2,230.7 L333.7,230.3 L334.2,229.9 L334.6,229.6 L335.1,229.2 L335.6,228.8 L336.1,228.4 L336.5,228.1 L337.0,227.7 L337.5,227.4 L338.0,227.0 L338.5,226.7 L339.0,226.3 L339.5,226.0 L340.1,225.7 L340.6,225.3 L341.1,225.0 L341.6,224.7 L342.2,224.4 L342.7,224.1 L343.2,223.8 L343.8,223.5 L344.3,223.3 L344.9,223.0 L345.4,222.7 L346.0,222.5 L346.6,222.2 L347.2,222.0 L347.7,221.7 L348.3,221.5 L348.9,221.3 L349.5,221.1 L350.1,220.9 L350.7,220.7 L351.3,220.5 L351.9,220.3 L352.4,220.2 L353.0,220.0 L353.7,219.9 L354.3,219.8 L354.9,219.7 L355.5,219.6 L356.1,219.5 L356.7,219.4 L357.3,219.4 L357.9,219.3 L358.5,219.3 L359.1,219.3 L359.7,219.3 L360.3,219.3 L360.9,219.4 L361.5,219.4 L362.1,219.5 L362.7,219.6 L363.3,219.7 L364.0,219.8 L364.5,219.9 L365.1,220.1 L365.7,220.3 L366.3,220.5 L366.9,220.7 L367.5,220.9 L368.1,221.2 L368.7,221.5 L369.3,221.8 L369.8,222.1 L370.4,222.4" stroke="#ff00ff" stroke-width="1.7"/>
</g>
<g font-family="'Liberation Sans', Arial, sans-serif" font-size="20.8" fill="#4d4d4d">
<text x="136.2" y="445.7" text-anchor="middle">-1.5</text>
<text x="214.2" y="445.7" text-anchor="middle">-1</text>
<text x="292.2" y="445.7" text-anchor="middle">-0.5</text>
<text x="370.2" y="445.7" text-anchor="middle">0</text>
<text x="448.2" y="445.7" text-anchor="middle">0.5</text>
<text x="526.2" y="445.7" text-anchor="middle">1</text>
<text x="80.2" y="37.3" text-anchor="end">2</text>
<text x="80.2" y="85.6" text-anchor="end">1.5</text>
<text x="80.2" y="133.9" text-anchor="end">1</text>
<text x="80.2" y="182.2" text-anchor="end">0.5</text>
<text x="80.2" y="230.5" text-anchor="end">0</text>
<text x="80.2" y="278.8" text-anchor="end">-0.5</text>
<text x="80.2" y="327.1" text-anchor="end">-1</text>
<text x="80.2" y="375.4" text-anchor="end">-1.5</text>
<text x="80.2" y="423.7" text-anchor="end">-2</text>
</g>
<g font-family="'Liberation Serif', 'Times New Roman', serif" fill="#000">
<text x="263.4" y="470.6" font-size="23.2">Real axis</text>
<text transform="translate(33.7,294.2) rotate(-90)" font-size="23.2">Imaginary axis</text>
</g>
<rect x="272.1" y="264.2" width="248" height="147.8" fill="#fff" stroke="#1a1a1a" stroke-width="1.5"/>
<line x1="278.3" y1="282.5" x2="340.8" y2="282.5" stroke="#000" stroke-width="1.5"/>
<line x1="278.3" y1="308.9" x2="340.8" y2="308.9" stroke="#00ff00" stroke-width="2.9"/>
<line x1="278.3" y1="331.5" x2="340.8" y2="331.5" stroke="#0000ff" stroke-width="1.5"/>
<line x1="278.3" y1="353.7" x2="340.8" y2="353.7" stroke="#ff0000" stroke-width="1.5"/>
<line x1="278.3" y1="376.0" x2="340.8" y2="376.0" stroke="#00bfbf" stroke-width="1.5"/>
<line x1="278.3" y1="398.4" x2="340.8" y2="398.4" stroke="#ff00ff" stroke-width="1.5"/>
<g font-family="'Liberation Serif', 'Times New Roman', serif" font-size="18.9" fill="#000">
<text x="345.9" y="284.2" font-size="18.9">The circle of</text>
<text x="448.8" y="284.2" font-style="italic" font-size="19.8">M</text>
<text x="464.3" y="292.9" font-style="italic" font-size="14.8">s</text>
<text x="470.8" y="284.2" font-size="19.3">=1.58</text>
<text x="345.8" y="316.2">Unit circle</text>
<text x="345.8" y="338.0">DRO-PID</text>
<text x="345.8" y="360.4">DRO-PI</text>
<text x="345.8" y="382.9">SIMC-PID</text>
<text x="345.8" y="404.4">Panagopoulos-PID</text>
</g>
</svg>
</body></html>
